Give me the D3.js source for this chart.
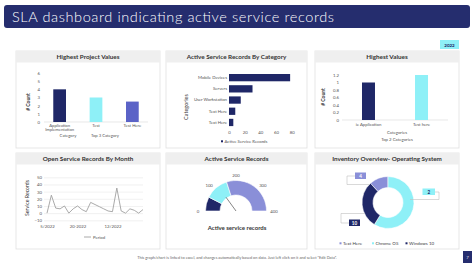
<!DOCTYPE html>
<html>
<head>
<meta charset="utf-8">
<script src="https://cdn.jsdelivr.net/npm/d3@7"></script>
<style>
  body { margin: 0; background: #fff; }
  svg { display: block; font-family: Lato, "Open Sans", sans-serif; }
</style>
</head>
<body>
<div id="container"></div>
<script>
/* DATA */
const projCats = ["Application Implementation", "Test", "Test Here"];
const projValues = [4, 3, 2.5];
const projGroups = ["Category", "Top 3 Category"];

const recCats = ["Mobile Devices", "Servers", "User Workstation", "Text Here", "Text Here"];
const recValues = [78, 30, 15, 8, 5.5];

const highCats = ["ie Application", "Test here"];
const highValues = [1, 1.2];

const monthValues = [0, 25, 7, 6, 10, 0, 6, 10, 5, 2, 15, 12, 9, 6, 3, 2, 35, 3, 0, 6, 4, 0, 5];
const monthTickIdx = [0, 7, 15];
const monthTickLabels = ["5/2022", "20-2022", "12/2022"];

const gaugeBands = [60, 160, 400];
const gaugeTicks = [0, 100, 200, 300, 400];
const gaugeValue = 120;

const osNames = ["Text Here", "Chrome OS", "Windows 10"];
const osValues = [4, 20, 10];
const osLabels = ["4", "2", "10"];

/* COLOURS */
const navy = "#1f2767",
      cyan = "#8ef0f7",
      blue = "#5b63c7",
      lav = "#8a8fd8",
      txt = "#555";

const width = 474, height = 266;

const svg = d3.select("#container")
  .append("svg")
  .attr("width", width)
  .attr("height", height);

// title bar
svg.append("rect")
  .attr("x", 4).attr("y", 5).attr("width", 466).attr("height", 23)
  .attr("rx", 3).attr("fill", "#252d6e");
svg.append("text")
  .attr("x", 12).attr("y", 21.5)
  .attr("fill", "#fff").attr("font-size", 14.5).attr("font-weight", 300)
  .attr("textLength", 322).attr("lengthAdjust", "spacing")
  .text("SLA dashboard indicating active service records");

// year badge
svg.append("rect").attr("x", 440).attr("y", 40).attr("width", 19).attr("height", 9).attr("fill", cyan);
svg.append("text").attr("x", 449.5).attr("y", 47).attr("text-anchor", "middle")
  .attr("font-size", 4.5).attr("font-weight", "bold").attr("fill", navy).text("2022");

function panel(x, y, w, h, title) {
  svg.append("rect").attr("x", x).attr("y", y).attr("width", w).attr("height", h)
    .attr("fill", "#fff").attr("stroke", "#e0e0e0").attr("stroke-width", 0.8);
  svg.append("rect").attr("x", x).attr("y", y).attr("width", w).attr("height", 11.5)
    .attr("fill", "#efefef");
  svg.append("text").attr("x", x + w / 2).attr("y", y + 8.2)
    .attr("text-anchor", "middle").attr("font-size", 6.3).attr("font-weight", "bold")
    .attr("fill", "#333").text(title);
}

function small(g) {
  g.attr("font-size", 4.3).attr("font-family", "Lato, sans-serif");
  g.select(".domain").remove();
  g.selectAll("text").attr("fill", txt);
}

panel(16, 51, 144, 97, "Highest Project Values");
panel(166, 51, 141, 97, "Active Service Records By Category");
panel(315, 51, 144, 97, "Highest Values");
panel(16, 153, 144, 96, "Open Service Records By Month");
panel(166, 153, 141, 96, "Active Service Records");
panel(315, 153, 144, 96, "Inventory Overview- Operating System");

/* PANEL 1 : Highest Project Values */
{
  const x = d3.scaleBand().domain(projCats).range([46, 146]).paddingInner(0.65).paddingOuter(0.2);
  const y = d3.scaleLinear().domain([0, 6]).range([122, 73]);
  const cols = [navy, cyan, blue];

  svg.append("line").attr("x1", 44).attr("x2", 148).attr("y1", y(0)).attr("y2", y(0))
    .attr("stroke", "#d9d9d9").attr("stroke-width", 0.6);

  svg.append("g").attr("transform", "translate(42,0)")
    .call(d3.axisLeft(y).ticks(6).tickSize(0).tickPadding(2))
    .call(small);

  svg.selectAll(".pbar").data(projValues).join("rect")
    .attr("class", "pbar")
    .attr("x", (d, i) => x(projCats[i]))
    .attr("width", x.bandwidth())
    .attr("y", d => y(d))
    .attr("height", d => y(0) - y(d))
    .attr("fill", (d, i) => cols[i]);

  svg.selectAll(".plab").data(projCats).join("text")
    .attr("class", "plab")
    .attr("x", d => x(d) + x.bandwidth() / 2)
    .attr("y", 127)
    .attr("text-anchor", "middle").attr("font-size", 4.2).attr("fill", txt)
    .each(function (d) {
      const words = d.length > 12 ? d.split(" ") : [d];
      d3.select(this).selectAll("tspan").data(words).join("tspan")
        .attr("x", x(d) + x.bandwidth() / 2)
        .attr("dy", (w, i) => i ? 3.6 : 0)
        .text(w => w);
    });

  svg.selectAll(".pgrp").data(projGroups).join("text")
    .attr("class", "pgrp")
    .attr("x", (d, i) => i ? 105 : 68)
    .attr("y", 136.5)
    .attr("text-anchor", "middle").attr("font-size", 4.2).attr("fill", txt)
    .text(d => d);

  svg.append("text").attr("transform", "translate(30,102) rotate(-90)")
    .attr("text-anchor", "middle").attr("font-size", 5).attr("font-weight", "bold")
    .attr("fill", "#333").text("# Count");
}

/* PANEL 2 : Active Service Records By Category */
{
  const idx = d3.range(recCats.length);
  const y = d3.scaleBand().domain(idx).range([72.1, 128]).paddingInner(0.35).paddingOuter(0.17);
  const x = d3.scaleLinear().domain([0, 80]).range([229, 291.7]);

  svg.selectAll(".rbar").data(recValues).join("rect")
    .attr("class", "rbar")
    .attr("x", x(0))
    .attr("y", (d, i) => y(i))
    .attr("width", d => x(d) - x(0))
    .attr("height", y.bandwidth())
    .attr("fill", navy);

  svg.append("g").attr("transform", `translate(${x(0) - 2},0)`)
    .call(d3.axisLeft(y).tickSize(0).tickPadding(0).tickFormat(i => recCats[i]))
    .call(small);

  svg.append("g").attr("transform", "translate(0,129)")
    .call(d3.axisBottom(x).ticks(4).tickSize(0).tickPadding(1.5))
    .call(small);

  svg.append("text").attr("transform", "translate(188,107) rotate(-90)")
    .attr("text-anchor", "middle").attr("font-size", 5.5).attr("fill", "#333").text("Categories");

  svg.append("rect").attr("x", 221).attr("y", 140.3).attr("width", 2).attr("height", 2).attr("fill", navy);
  svg.append("text").attr("x", 224.5).attr("y", 142.5).attr("font-size", 4.3).attr("fill", txt)
    .text("Active Service Records");
}

/* PANEL 3 : Highest Values */
{
  const x = d3.scaleBand().domain(highCats).range([342, 448]).paddingInner(0.755).paddingOuter(0.377);
  const y = d3.scaleLinear().domain([0, 1.2]).range([120, 75]);
  const cols = [navy, cyan];

  svg.append("line").attr("x1", 342).attr("x2", 448).attr("y1", y(0)).attr("y2", y(0))
    .attr("stroke", "#d9d9d9").attr("stroke-width", 0.6);

  svg.append("g").attr("transform", "translate(340,0)")
    .call(d3.axisLeft(y).tickValues(d3.range(0, 1.21, 0.2)).tickSize(0).tickPadding(1)
      .tickFormat(d3.format("~g")))
    .call(small);

  svg.selectAll(".hbar").data(highValues).join("rect")
    .attr("class", "hbar")
    .attr("x", (d, i) => x(highCats[i]))
    .attr("width", x.bandwidth())
    .attr("y", d => y(d))
    .attr("height", d => y(0) - y(d))
    .attr("fill", (d, i) => cols[i]);

  svg.append("g").attr("transform", `translate(0,${y(0)})`)
    .call(d3.axisBottom(x).tickSize(0).tickPadding(3))
    .call(small);

  svg.append("text").attr("x", 397).attr("y", 134).attr("text-anchor", "middle")
    .attr("font-size", 4.3).attr("fill", txt).text("Categories");
  svg.append("text").attr("x", 397).attr("y", 140.5).attr("text-anchor", "middle")
    .attr("font-size", 4.3).attr("fill", txt).text("Top 2 Categories");

  svg.append("text").attr("transform", "translate(325,97) rotate(-90)")
    .attr("text-anchor", "middle").attr("font-size", 5).attr("font-weight", "bold")
    .attr("fill", "#333").text("# Count");
}

/* PANEL 4 : Open Service Records By Month */
{
  const x = d3.scalePoint().domain(d3.range(monthValues.length)).range([47, 143]);
  const y = d3.scaleLinear().domain([-10, 50]).range([220.3, 177.3]);

  svg.append("g").attr("transform", "translate(44,0)")
    .call(d3.axisLeft(y).ticks(6).tickSize(-99).tickPadding(2))
    .call(small)
    .call(g => g.selectAll("line").attr("stroke", "#e3e3e3").attr("stroke-width", 0.5));

  svg.append("path")
    .datum(monthValues)
    .attr("fill", "none").attr("stroke", "#a0a0a0").attr("stroke-width", 0.9)
    .attr("d", d3.line().x((d, i) => x(i)).y(d => y(d)));

  svg.append("g").attr("transform", "translate(0,224)")
    .call(d3.axisBottom(x).tickValues(monthTickIdx).tickSize(0).tickPadding(1)
      .tickFormat(i => monthTickLabels[monthTickIdx.indexOf(i)]))
    .call(small);

  svg.append("text").attr("transform", "translate(29,198) rotate(-90)")
    .attr("text-anchor", "middle").attr("font-size", 5.2).attr("fill", "#333").text("Service Records");

  svg.append("line").attr("x1", 84).attr("x2", 91).attr("y1", 237).attr("y2", 237)
    .attr("stroke", "#a0a0a0").attr("stroke-width", 0.9);
  svg.append("text").attr("x", 93).attr("y", 238.5).attr("font-size", 4.3).attr("fill", txt).text("Period");
}

/* PANEL 5 : gauge */
{
  const cx = 236, cy = 211;
  const a = d3.scaleLinear().domain([0, 400]).range([-Math.PI / 2, Math.PI / 2]);
  const arc = d3.arc().innerRadius(16).outerRadius(30.5);
  const g = svg.append("g").attr("transform", `translate(${cx},${cy})`);
  const cols = [navy, cyan, lav];

  g.selectAll(".seg").data(gaugeBands).join("path")
    .attr("class", "seg")
    .attr("d", (d, i) => arc({ startAngle: a(i ? gaugeBands[i - 1] : 0), endAngle: a(d) }))
    .attr("fill", (d, i) => cols[i])
    .attr("stroke", "#fff").attr("stroke-width", 0.6);

  g.selectAll(".gt").data(gaugeTicks).join("text")
    .attr("class", "gt")
    .attr("x", d => 38 * Math.sin(a(d)))
    .attr("y", d => -36 * Math.cos(a(d)) + 1.5)
    .attr("text-anchor", "middle").attr("font-size", 4.3).attr("fill", txt)
    .text(d => d);

  g.append("line")
    .attr("x1", 0).attr("y1", 0)
    .attr("x2", 17 * Math.sin(a(gaugeValue))).attr("y2", -17 * Math.cos(a(gaugeValue)))
    .attr("stroke", "#666").attr("stroke-width", 0.8);

  svg.append("text").attr("x", 237).attr("y", 229.5).attr("text-anchor", "middle")
    .attr("font-size", 6).attr("font-weight", "bold").attr("fill", "#333").text("Active service records");
}

/* PANEL 6 : donut */
{
  const cx = 388, cy = 202.5;
  const total = d3.sum(osValues);
  const start = -2 * Math.PI * osValues[0] / total;
  const pie = d3.pie().sort(null).startAngle(start).endAngle(start + 2 * Math.PI);
  const arc = d3.arc().innerRadius(15).outerRadius(26);
  const cols = [lav, cyan, navy];
  const g = svg.append("g").attr("transform", `translate(${cx},${cy})`);

  g.selectAll("path").data(pie(osValues)).join("path")
    .attr("d", arc)
    .attr("fill", (d, i) => cols[i])
    .attr("stroke", "#fff").attr("stroke-width", 0.6);

  // data labels with leader lines
  const boxes = [
    { x: 355, y: 172.5, w: 11, lead: [[370, 184.5], [347, 184.5], [347, 176], [355, 176]], fill: lav, col: "#fff" },
    { x: 422.5, y: 188.5, w: 12.5, lead: [[410, 199.5], [439, 199.5], [439, 192], [435, 192]], fill: cyan, col: navy },
    { x: 349, y: 219.5, w: 11, lead: [[365, 213.5], [341, 213.5], [341, 223], [349, 223]], fill: navy, col: "#fff" }
  ];
  boxes.forEach((b, i) => {
    svg.append("path").attr("d", d3.line()(b.lead)).attr("fill", "none")
      .attr("stroke", "#bfbfbf").attr("stroke-width", 0.6);
    svg.append("rect").attr("x", b.x).attr("y", b.y).attr("width", b.w).attr("height", 6.5).attr("fill", b.fill);
    svg.append("text").attr("x", b.x + b.w / 2).attr("y", b.y + 5)
      .attr("text-anchor", "middle").attr("font-size", 4.6).attr("font-weight", "bold")
      .attr("fill", b.col).text(osLabels[i]);
  });

  const lx = [339.5, 372, 405.5];
  osNames.forEach((n, i) => {
    svg.append("rect").attr("x", lx[i]).attr("y", 242.3).attr("width", 2).attr("height", 2).attr("fill", cols[i]);
    svg.append("text").attr("x", lx[i] + 3.5).attr("y", 244.5).attr("font-size", 4.5).attr("fill", "#444").text(n);
  });
}

// footer
svg.append("text").attr("x", 237).attr("y", 259).attr("text-anchor", "middle")
  .attr("font-size", 3.9).attr("fill", "#666")
  .text("This graph/chart is linked to excel, and changes automatically based on data. Just left click on it and select \u201cEdit Data\u201d.");
svg.append("rect").attr("x", 463).attr("y", 251).attr("width", 9).attr("height", 12).attr("fill", "#252d6e");
svg.append("text").attr("x", 467.5).attr("y", 259).attr("text-anchor", "middle")
  .attr("font-size", 4.5).attr("fill", "#fff").text("7");
</script>
</body>
</html>
